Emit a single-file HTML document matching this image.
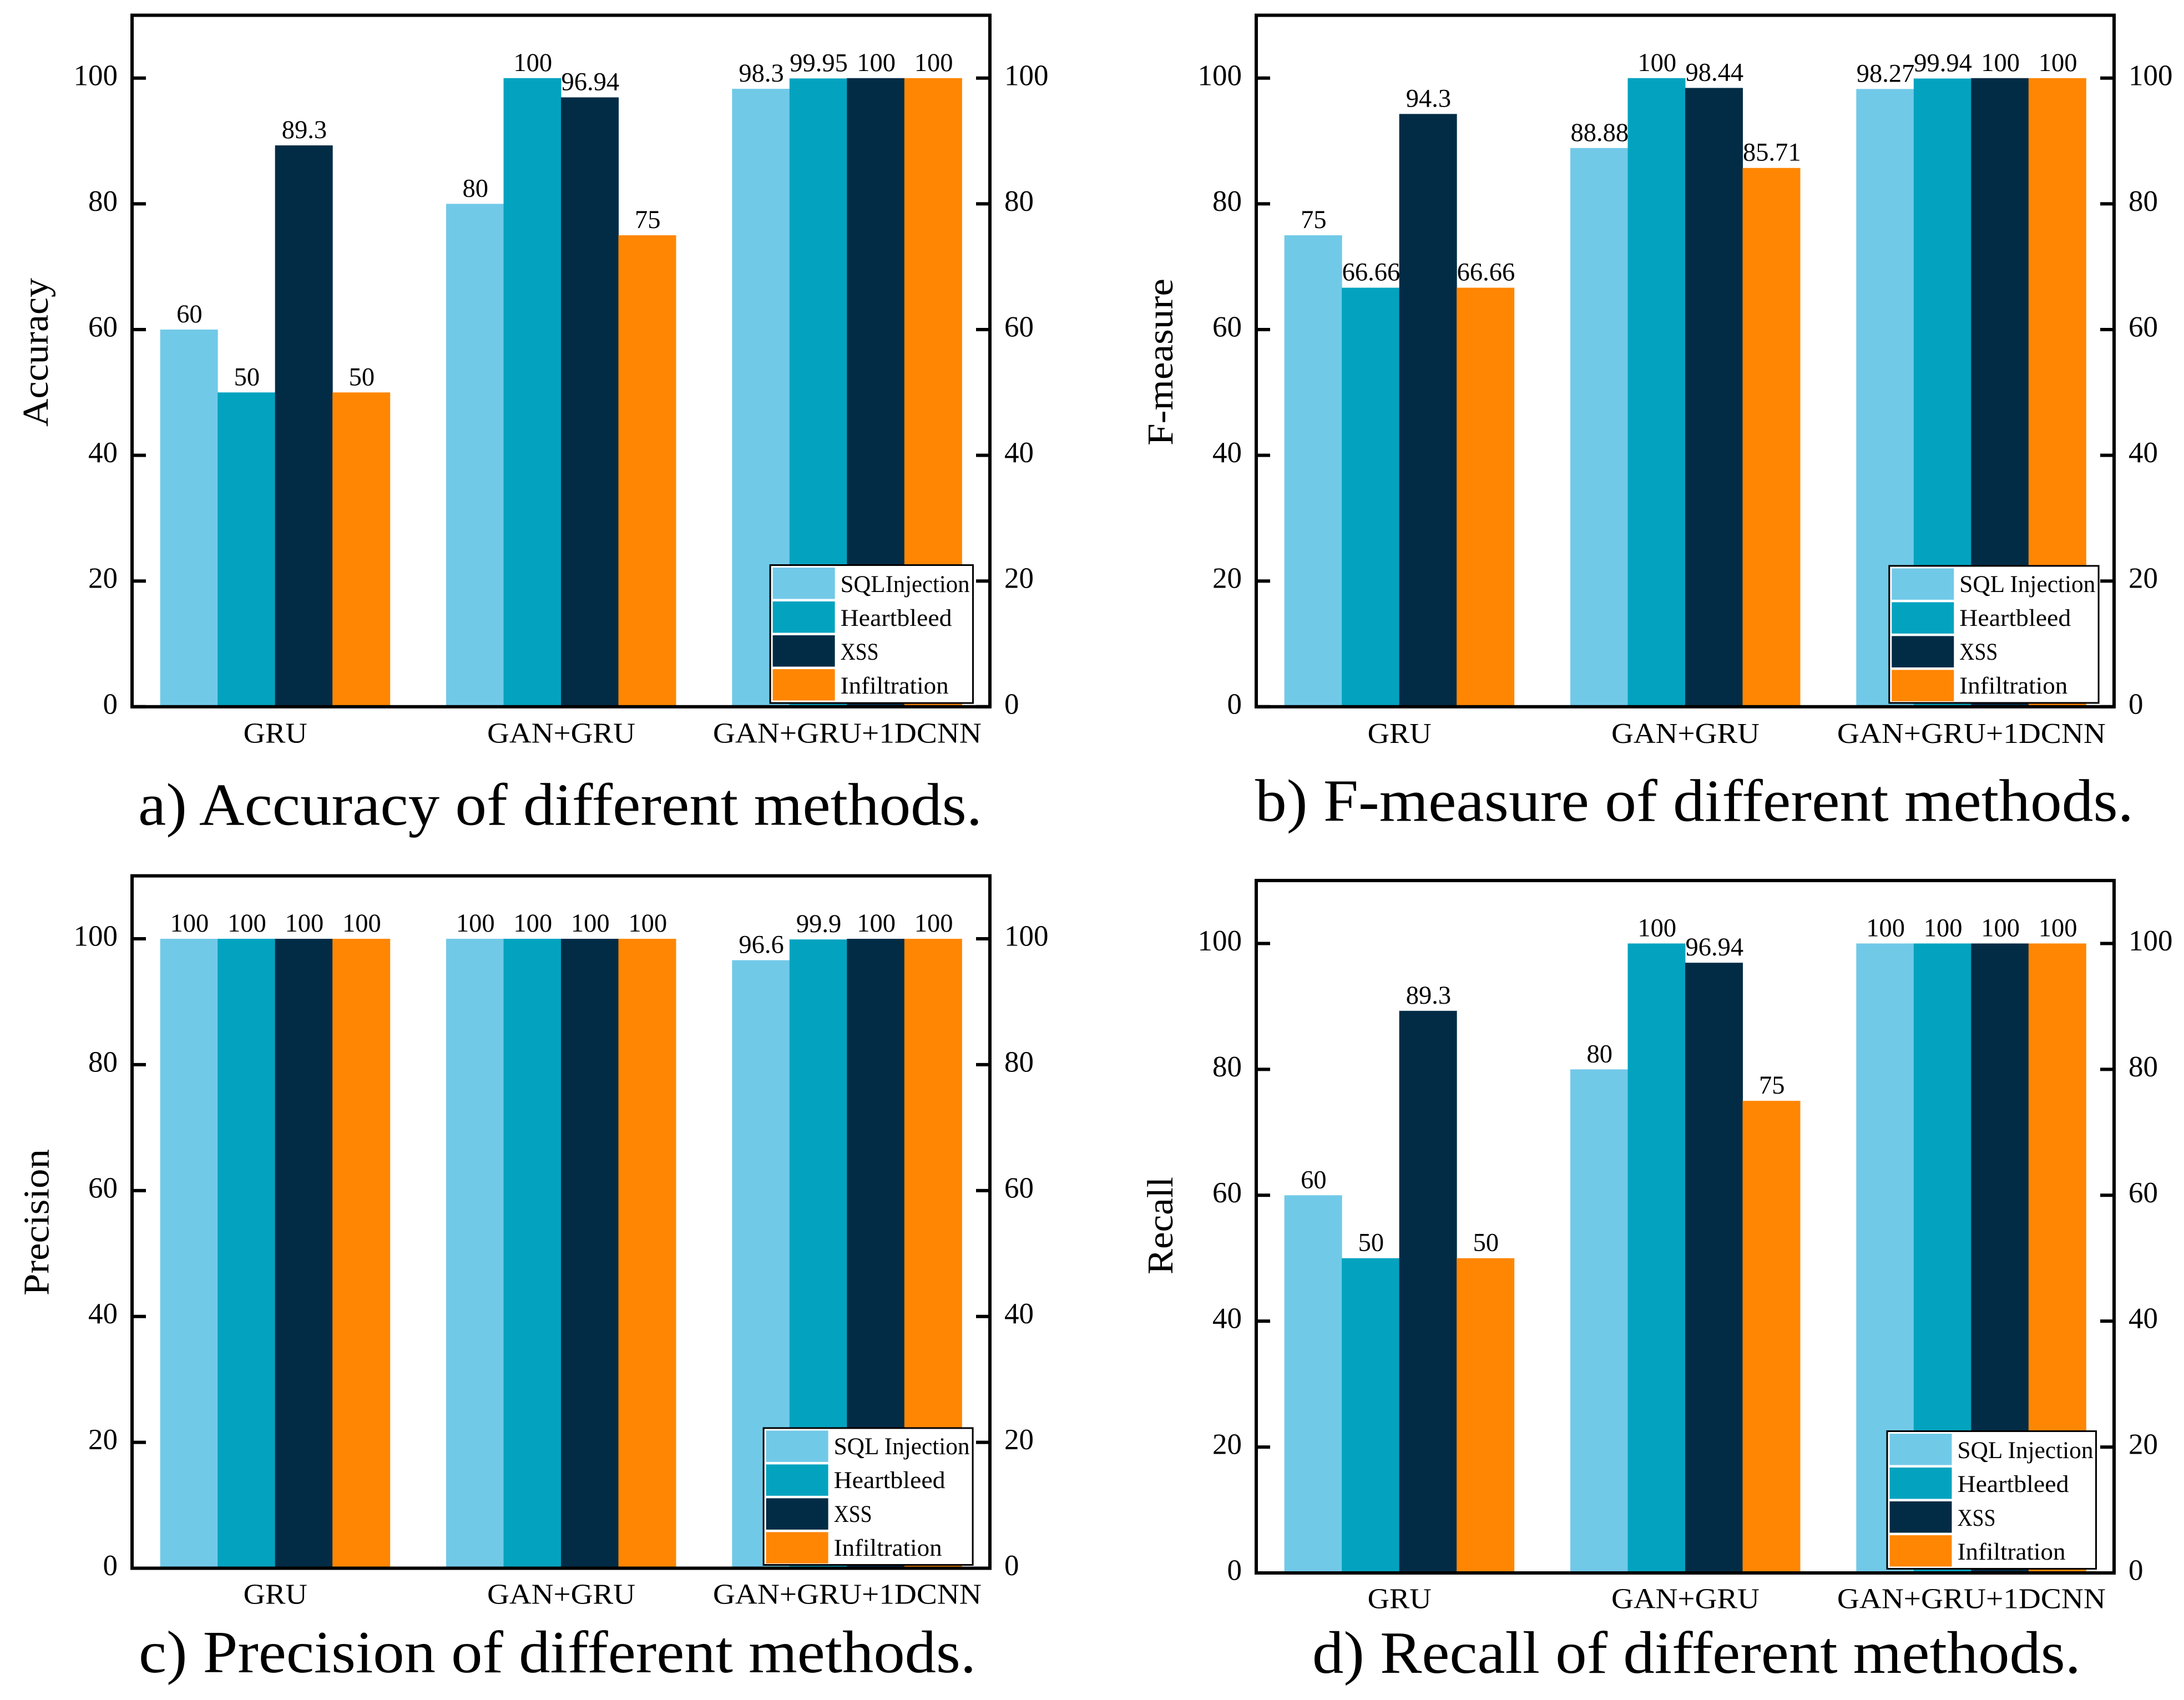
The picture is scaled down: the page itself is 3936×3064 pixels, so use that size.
<!DOCTYPE html>
<html>
<head>
<meta charset="utf-8">
<title>Comparison of different methods</title>
<style>
html,body{margin:0;padding:0;background:#fff;}
svg{display:block;}
text{font-family:"Liberation Serif",serif;fill:#000;}
</style>
</head>
<body>
<svg id="figure" xmlns="http://www.w3.org/2000/svg" width="3936" height="3064" viewBox="0 0 3936 3064"></svg>
<script>
// Chart data
const categories = ['GRU', 'GAN+GRU', 'GAN+GRU+1DCNN'];
const yTickValues = [0, 20, 40, 60, 80, 100];
const seriesNames = ['SQL Injection', 'Heartbleed', 'XSS', 'Infiltration'];
const seriesColors = ['#71c9e8', '#03a3c0', '#022c46', '#ff8603'];

const accuracySql = [60, 80, 98.3];
const accuracyHeartbleed = [50, 100, 99.95];
const accuracyXss = [89.3, 96.94, 100];
const accuracyInfiltration = [50, 75, 100];

const fmeasureSql = [75, 88.88, 98.27];
const fmeasureHeartbleed = [66.66, 100, 99.94];
const fmeasureXss = [94.3, 98.44, 100];
const fmeasureInfiltration = [66.66, 85.71, 100];

const precisionSql = [100, 100, 96.6];
const precisionHeartbleed = [100, 100, 99.9];
const precisionXss = [100, 100, 100];
const precisionInfiltration = [100, 100, 100];

const recallSql = [60, 80, 100];
const recallHeartbleed = [50, 100, 100];
const recallXss = [89.3, 96.94, 100];
const recallInfiltration = [50, 75, 100];

const NS = 'http://www.w3.org/2000/svg';
const root = document.getElementById('figure');
const Y_MAX = 110;
const LABEL_LENGTHS = {'GRU': 115, 'GAN+GRU': 267, 'GAN+GRU+1DCNN': 484};
const LEGEND_LENGTHS = {'SQLInjection': 233, 'SQL Injection': 245, 'Heartbleed': 201, 'XSS': 69, 'Infiltration': 195};

function mk(tag, attrs, parent, content) {
  const el = document.createElementNS(NS, tag);
  for (const k in attrs) el.setAttribute(k, attrs[k]);
  if (content !== undefined) el.textContent = content;
  parent.appendChild(el);
  return el;
}

function drawPanel(p) {
  const group = mk('g', {}, root);
  
  

  const yScale = v => p.y0 - v * (p.y0 - p.top) / Y_MAX;
  const band = (p.right - p.left) / categories.length;
  const barW = 103.5;
  const xCenter = g => p.left + (g + 0.5) * band;
  const xBar = (g, s) => xCenter(g) + (s - seriesNames.length / 2) * barW;

  // bars
  p.series.forEach((values, s) => {
    values.forEach((v, g) => {
      const bar = mk('rect', {x: xBar(g, s), y: yScale(v), width: barW + 0.5, height: p.y0 - yScale(v), fill: seriesColors[s]}, group);
      
      
    });
  });

  // value labels
  p.series.forEach((values, s) => {
    values.forEach((v, g) => {
      const label = mk('text', {x: xBar(g, s) + barW / 2 + 1, y: yScale(v) - 13, 'text-anchor': 'middle', 'font-size': 46.5}, group, String(v));
      
      
    });
  });

  // y ticks on both sides
  yTickValues.forEach(t => {
    const y = yScale(t);
    const tickL = mk('line', {x1: p.left, x2: p.left + 25, y1: y, y2: y, stroke: '#000', 'stroke-width': 6}, group);
    
    
    const tickR = mk('line', {x1: p.right, x2: p.right - 25, y1: y, y2: y, stroke: '#000', 'stroke-width': 6}, group);
    
    
    const labelL = mk('text', {x: p.left - 26, y: y + 12.5, 'text-anchor': 'end', 'font-size': 53}, group, String(t));
    
    
    const labelR = mk('text', {x: p.right + 26, y: y + 12.5, 'text-anchor': 'start', 'font-size': 53}, group, String(t));
    
    
  });

  // plot frame
  const frame = mk('rect', {x: p.left, y: p.top, width: p.right - p.left, height: p.y0 - p.top, fill: 'none', stroke: '#000', 'stroke-width': 6}, group);
  
  

  // x category labels
  categories.forEach((c, g) => {
    const label = mk('text', {x: xCenter(g) + 0.5, y: p.xLabelY, 'text-anchor': 'middle', 'font-size': 52, textLength: LABEL_LENGTHS[c], lengthAdjust: 'spacingAndGlyphs'}, group, c);
    
    
  });

  // y axis title
  const title = mk('text', {transform: 'translate(' + p.titleX + ' ' + p.titleY + ') rotate(-90)', 'font-size': 66, textLength: p.titleLen, lengthAdjust: 'spacingAndGlyphs'}, group, p.yTitle);
  
  

  // caption
  const caption = mk('text', {x: p.capX, y: p.capY, 'font-size': 108, textLength: p.capLen, lengthAdjust: 'spacingAndGlyphs'}, group, p.caption);
  
  

  // legend
  const legend = mk('g', {}, group);
  
  
  const box = mk('rect', {x: p.lx + 1.5, y: p.ly + 1.5, width: p.lw - 3, height: p.lh - 3, fill: '#fff', stroke: '#000', 'stroke-width': 3}, legend);
  
  
  p.legendNames.forEach((name, i) => {
    const swatch = mk('rect', {x: p.lx + 6, y: p.ly + 6 + i * 61, width: 112, height: 56.5, fill: seriesColors[i]}, legend);
    
    
    const entry = mk('text', {x: p.lx + 128, y: p.ly + p.lb + i * 61, 'font-size': 43, textLength: LEGEND_LENGTHS[name], lengthAdjust: 'spacingAndGlyphs'}, legend, name);
    
    
  });
}

drawPanel({
  key: 'accuracy', yTitle: 'Accuracy', caption: 'a) Accuracy of different methods.',
  series: [accuracySql, accuracyHeartbleed, accuracyXss, accuracyInfiltration],
  legendNames: ['SQLInjection', 'Heartbleed', 'XSS', 'Infiltration'],
  left: 238, right: 1784, top: 27.5, y0: 1273.8, xLabelY: 1338.6,
  titleX: 86, titleY: 769, titleLen: 268,
  capX: 249, capY: 1486.7, capLen: 1521,
  lx: 1386.6, ly: 1017, lw: 368.4, lh: 251.6, lb: 50
});
drawPanel({
  key: 'f-measure', yTitle: 'F-measure', caption: 'b) F-measure of different methods.',
  series: [fmeasureSql, fmeasureHeartbleed, fmeasureXss, fmeasureInfiltration],
  legendNames: seriesNames,
  left: 2264, right: 3810, top: 27.5, y0: 1273.8, xLabelY: 1338.8,
  titleX: 2113, titleY: 803, titleLen: 301,
  capX: 2262, capY: 1479.3, capLen: 1583,
  lx: 3403.3, ly: 1018.4, lw: 380.3, lh: 250, lb: 48.8
});
drawPanel({
  key: 'precision', yTitle: 'Precision', caption: 'c) Precision of different methods.',
  series: [precisionSql, precisionHeartbleed, precisionXss, precisionInfiltration],
  legendNames: seriesNames,
  left: 238, right: 1784, top: 1578.6, y0: 2826.5, xLabelY: 2890.5,
  titleX: 87.5, titleY: 2335, titleLen: 264,
  capX: 250, capY: 3014, capLen: 1509,
  lx: 1374.6, ly: 2572.4, lw: 380, lh: 249.6, lb: 48.6
});
drawPanel({
  key: 'recall', yTitle: 'Recall', caption: 'd) Recall of different methods.',
  series: [recallSql, recallHeartbleed, recallXss, recallInfiltration],
  legendNames: seriesNames,
  left: 2264, right: 3810, top: 1587, y0: 2835, xLabelY: 2898.7,
  titleX: 2113, titleY: 2297, titleLen: 176,
  capX: 2365, capY: 3015, capLen: 1385,
  lx: 3399.5, ly: 2578, lw: 379.5, lh: 251, lb: 50
});
</script>
</body>
</html>
